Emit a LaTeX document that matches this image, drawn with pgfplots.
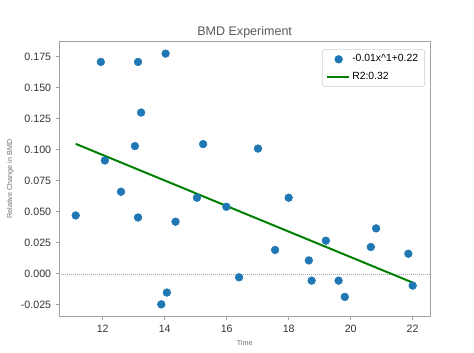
\documentclass[border=0pt]{standalone}
\usepackage{fontspec}
\setmainfont{Liberation Sans}
\usepackage{pgfplots}
\pgfplotsset{compat=1.18}
\definecolor{mplblue}{HTML}{1F77B4}
\definecolor{mplgreen}{HTML}{008000}
\definecolor{spine}{HTML}{A0A0A0}
\definecolor{ticklab}{HTML}{333333}
\definecolor{labgray}{HTML}{707070}
\pgfplotsset{shortline/.style={legend image code/.code={\draw[##1] (0pt,0pt) -- (16pt,0pt);}}}
\begin{document}
\begin{tikzpicture}
\begin{axis}[
  name=ax,
  scale only axis,
  width=278.25pt, height=206.25pt,
  xmin=10.6, xmax=22.56, ymin=-0.0343, ymax=0.1871,
  xtick={12,14,16,18,20,22},
  ytick={-0.025,0,0.025,0.05,0.075,0.1,0.125,0.15,0.175},
  scaled y ticks=false,
  yticklabel style={/pgf/number format/.cd, fixed, fixed zerofill, precision=3},
  /pgf/number format/assume math mode=true,
  tick label style={font=\fontsize{8}{9.6}\selectfont, text=ticklab},
  tick align=outside,
  tick pos=left,
  major tick length=2.6pt,
  every tick/.style={spine, line width=0.75pt},
  axis line style={spine, line width=0.75pt},
  title={BMD Experiment},
  title style={font=\fontsize{9.4}{11}\selectfont, text=labgray!80!black, yshift=-7pt},
  xlabel={Time}, ylabel={Relative Change in BMD},
  label style={font=\fontsize{5.4}{6.5}\selectfont, text=labgray},
  xlabel style={at={(axis description cs:0.5,-0.095)}, anchor=center},
  ylabel style={at={(axis description cs:-0.132,0.5)}, anchor=center},
  legend style={at={(axis description cs:0.9865,0.973)}, anchor=north east,
    font=\fontsize{7.8}{9.4}\selectfont, draw=gray!35, rounded corners=2pt,
    fill=white, inner xsep=3pt, inner ysep=2pt, row sep=2pt, text=black},
  legend cell align=left,
]
\addplot[gray!70, densely dotted, line width=0.5pt, forget plot] coordinates {(10.6,0) (22.56,0)};
\addplot[only marks, mark=*, mark size=2.9pt, mark options={draw=mplblue, fill=mplblue}] coordinates {
(11.13,0.0471) (11.94,0.1708) (12.07,0.0914) (12.59,0.0662) (13.04,0.103)
(13.14,0.1708) (13.14,0.0455) (13.24,0.130) (13.89,-0.0245) (14.03,0.1775)
(14.07,-0.015) (14.35,0.0421) (15.04,0.0614) (15.24,0.1046) (15.99,0.0541)
(16.40,-0.0027) (17.01,0.101) (17.56,0.0193) (18.00,0.0614) (18.65,0.0109)
(18.74,-0.0054) (19.20,0.0268) (19.61,-0.0054) (19.81,-0.0185) (20.65,0.0217)
(20.82,0.0367) (21.86,0.0163) (22.00,-0.0094)
};
\addlegendentry{-0.01x\textasciicircum 1+0.22}
\addplot[mplgreen, line width=1.5pt, shortline] coordinates {(11.13,0.1048) (22.0,-0.007)};
\addlegendentry{R2:0.32}
\end{axis}
\path (ax.south west) ++(-44.5pt,-27pt) coordinate (bl);
\path (ax.north east) ++(33pt,31.3pt) coordinate (tr);
\path (bl) rectangle (tr);
\end{tikzpicture}
\end{document}
